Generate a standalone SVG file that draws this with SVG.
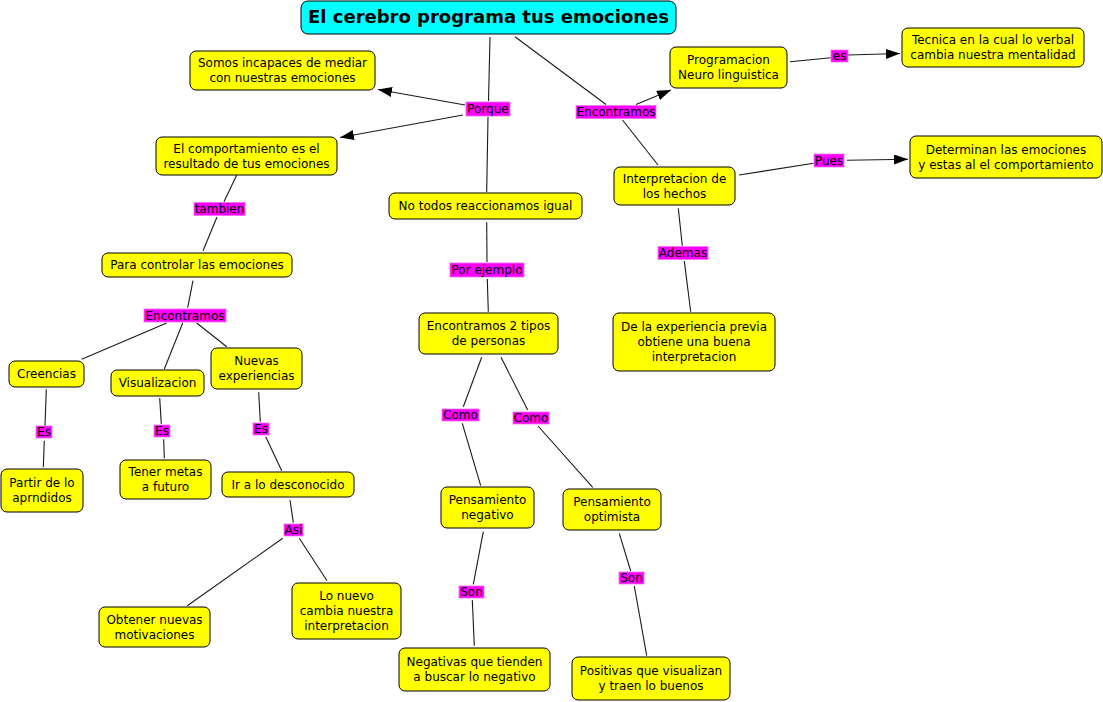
<svg xmlns="http://www.w3.org/2000/svg" width="1103" height="702" viewBox="0 0 1103 702">
<style>
.n rect{fill:#FFFF00;stroke:#000;stroke-width:1}
.t{font-family:"DejaVu Sans",Verdana,sans-serif;font-size:12px;text-anchor:middle;fill:#000}
.ti{font-family:"DejaVu Sans",Verdana,sans-serif;font-size:18px;font-weight:bold;text-anchor:middle;fill:#000}
.lb rect{fill:#FF00FF;stroke:#F070F0;stroke-width:0.8}
#connectors path{stroke:#1a1a1a;stroke-width:1.1;fill:none}
</style>
<defs>
<marker id="ah" markerUnits="userSpaceOnUse" markerWidth="16" markerHeight="12" refX="14" refY="5" orient="auto">
<path d="M0,0 L14,5 L0,10 z" fill="#000"/>
</marker>
</defs>
<rect width="1103" height="702" fill="#fff"/>
<g id="connectors">
<path d="M490,37 L488.5,101"/>
<path d="M488,117 L486.7,192"/>
<path d="M515,36.7 L606,104.5"/>
<path d="M622.5,120 L658,165"/>
<path d="M790,61.7 L831,57.7"/>
<path d="M739,175 L813.6,163.3"/>
<path d="M678.3,208.3 L682.3,245.7"/>
<path d="M684.3,261 L690.7,311.7"/>
<path d="M486.7,222.3 L487,262"/>
<path d="M487.3,279 L488.3,311.7"/>
<path d="M481.7,357.3 L463.3,406.7"/>
<path d="M462.3,423.3 L480.7,485.7"/>
<path d="M501,357.3 L527.7,410"/>
<path d="M538,426 L592.7,487.3"/>
<path d="M483.3,531.7 L473.3,584.3"/>
<path d="M472.3,600 L474.3,645.7"/>
<path d="M619.3,533.3 L630.7,571"/>
<path d="M634.3,586 L646.7,655.7"/>
<path d="M236.7,175 L224,201.7"/>
<path d="M217,217 L203,250.7"/>
<path d="M193,280.7 L187.7,307.7"/>
<path d="M166.7,323 L81.7,359.3"/>
<path d="M182.7,323 L164.3,369"/>
<path d="M196.7,323 L226.7,346.7"/>
<path d="M46.3,389.3 L45,425.7"/>
<path d="M44.3,440.7 L43.3,467.3"/>
<path d="M159.7,398 L161.3,424"/>
<path d="M163.7,439.3 L164.3,458.3"/>
<path d="M258.7,392.3 L260.3,421.7"/>
<path d="M265.7,436.7 L281.7,470.7"/>
<path d="M290,500 L293.3,522.7"/>
<path d="M282.7,538.3 L187.3,605.7"/>
<path d="M299.3,538.3 L327,580.7"/>
<path d="M465,105 L378,89.5" marker-end="url(#ah)"/>
<path d="M463,115 L340,137.5" marker-end="url(#ah)"/>
<path d="M636,104.5 L671,90" marker-end="url(#ah)"/>
<path d="M848,55 L900,53.5" marker-end="url(#ah)"/>
<path d="M847,160.3 L908,159.3" marker-end="url(#ah)"/>
</g>
<g id="title" class="n"><rect x="301" y="1" width="375" height="33" rx="7" style="fill:#00FFFF"/><text class="ti" x="488.5" y="23">El cerebro programa tus emociones</text></g>
<g id="somos" class="n"><rect x="190" y="51" width="185" height="39" rx="6"/><text class="t" x="282.5" y="67">Somos incapaces de mediar</text><text class="t" x="282.5" y="82">con nuestras emociones</text></g>
<g id="comportamiento" class="n"><rect x="156" y="137" width="181" height="38" rx="6"/><text class="t" x="246.5" y="152.5">El comportamiento es el</text><text class="t" x="246.5" y="167.5">resultado de tus emociones</text></g>
<g id="programacion" class="n"><rect x="670" y="47" width="117" height="41" rx="6"/><text class="t" x="728.5" y="64">Programacion</text><text class="t" x="728.5" y="79">Neuro linguistica</text></g>
<g id="tecnica" class="n"><rect x="902" y="28" width="182" height="39" rx="6"/><text class="t" x="993" y="44">Tecnica en la cual lo verbal</text><text class="t" x="993" y="59">cambia nuestra mentalidad</text></g>
<g id="interpretacion" class="n"><rect x="614" y="167" width="121" height="38" rx="6"/><text class="t" x="674.5" y="182.5">Interpretacion de</text><text class="t" x="674.5" y="197.5">los hechos</text></g>
<g id="determinan" class="n"><rect x="910" y="136" width="192" height="42" rx="6"/><text class="t" x="1006" y="153.5">Determinan las emociones</text><text class="t" x="1006" y="168.5">y estas al el comportamiento</text></g>
<g id="notodos" class="n"><rect x="389" y="193" width="193" height="26" rx="6"/><text class="t" x="485.5" y="210">No todos reaccionamos igual</text></g>
<g id="para" class="n"><rect x="102" y="253" width="190" height="24" rx="6"/><text class="t" x="197" y="269">Para controlar las emociones</text></g>
<g id="encontramos2" class="n"><rect x="419" y="313" width="139" height="41" rx="6"/><text class="t" x="488.5" y="330">Encontramos 2 tipos</text><text class="t" x="488.5" y="345">de personas</text></g>
<g id="experiencia" class="n"><rect x="613" y="313" width="162" height="58" rx="6"/><text class="t" x="694" y="331">De la experiencia previa</text><text class="t" x="694" y="346">obtiene una buena</text><text class="t" x="694" y="361">interpretacion</text></g>
<g id="creencias" class="n"><rect x="9" y="361" width="75" height="26" rx="6"/><text class="t" x="46.5" y="378">Creencias</text></g>
<g id="visualizacion" class="n"><rect x="111" y="370" width="93" height="26" rx="6"/><text class="t" x="157.5" y="387">Visualizacion</text></g>
<g id="nuevas" class="n"><rect x="211" y="348" width="91" height="41" rx="6"/><text class="t" x="256.5" y="365">Nuevas</text><text class="t" x="256.5" y="380">experiencias</text></g>
<g id="partir" class="n"><rect x="1" y="469" width="82" height="43" rx="6"/><text class="t" x="42" y="487">Partir de lo</text><text class="t" x="42" y="502">aprndidos</text></g>
<g id="tener" class="n"><rect x="120" y="460" width="91" height="39" rx="6"/><text class="t" x="165.5" y="476">Tener metas</text><text class="t" x="165.5" y="491">a futuro</text></g>
<g id="ir" class="n"><rect x="222" y="472" width="132" height="25" rx="6"/><text class="t" x="288" y="488.5">Ir a lo desconocido</text></g>
<g id="pnegativo" class="n"><rect x="441" y="487" width="93" height="41" rx="6"/><text class="t" x="487.5" y="504">Pensamiento</text><text class="t" x="487.5" y="519">negativo</text></g>
<g id="poptimista" class="n"><rect x="563" y="489" width="98" height="41" rx="6"/><text class="t" x="612" y="506">Pensamiento</text><text class="t" x="612" y="521">optimista</text></g>
<g id="obtener" class="n"><rect x="99" y="607" width="111" height="40" rx="6"/><text class="t" x="154.5" y="623.5">Obtener nuevas</text><text class="t" x="154.5" y="638.5">motivaciones</text></g>
<g id="lonuevo" class="n"><rect x="292" y="583" width="109" height="56" rx="6"/><text class="t" x="346.5" y="600">Lo nuevo</text><text class="t" x="346.5" y="615">cambia nuestra</text><text class="t" x="346.5" y="630">interpretacion</text></g>
<g id="negativas" class="n"><rect x="399" y="648" width="151" height="43" rx="6"/><text class="t" x="474.5" y="666">Negativas que tienden</text><text class="t" x="474.5" y="681">a buscar lo negativo</text></g>
<g id="positivas" class="n"><rect x="572" y="657" width="158" height="43" rx="6"/><text class="t" x="651" y="675">Positivas que visualizan</text><text class="t" x="651" y="690">y traen lo buenos</text></g>
<g id="lbl-porque" class="lb"><rect x="466" y="102" width="44" height="14"/><text class="t" x="488" y="113">Porque</text></g>
<g id="lbl-encontramos1" class="lb"><rect x="576" y="105.5" width="80" height="13"/><text class="t" x="616" y="116">Encontramos</text></g>
<g id="lbl-es" class="lb"><rect x="831" y="50" width="17" height="12"/><text class="t" x="839.5" y="60">es</text></g>
<g id="lbl-pues" class="lb"><rect x="814" y="154" width="30" height="13"/><text class="t" x="829" y="164.5">Pues</text></g>
<g id="lbl-tambien" class="lb"><rect x="194" y="202.5" width="51" height="13"/><text class="t" x="219.5" y="213">tambien</text></g>
<g id="lbl-encontramos2" class="lb"><rect x="144" y="309" width="82" height="13"/><text class="t" x="185" y="319.5">Encontramos</text></g>
<g id="lbl-porejemplo" class="lb"><rect x="450" y="263" width="74" height="14"/><text class="t" x="487" y="274">Por ejemplo</text></g>
<g id="lbl-ademas" class="lb"><rect x="658" y="246.5" width="50" height="13"/><text class="t" x="683" y="257">Ademas</text></g>
<g id="lbl-es1" class="lb"><rect x="36" y="426" width="16" height="12"/><text class="t" x="44" y="436">Es</text></g>
<g id="lbl-es2" class="lb"><rect x="154" y="425" width="16" height="12"/><text class="t" x="162" y="435">Es</text></g>
<g id="lbl-es3" class="lb"><rect x="253" y="423" width="16" height="12"/><text class="t" x="261" y="433">Es</text></g>
<g id="lbl-como1" class="lb"><rect x="442" y="409" width="37" height="12"/><text class="t" x="460.5" y="419">Como</text></g>
<g id="lbl-como2" class="lb"><rect x="513" y="412" width="36" height="12"/><text class="t" x="531" y="422">Como</text></g>
<g id="lbl-asi" class="lb"><rect x="284" y="524" width="19" height="12"/><text class="t" x="293.5" y="534">Asi</text></g>
<g id="lbl-son1" class="lb"><rect x="459" y="586" width="25" height="12"/><text class="t" x="471.5" y="596">Son</text></g>
<g id="lbl-son2" class="lb"><rect x="619" y="572" width="25" height="12"/><text class="t" x="631.5" y="582">Son</text></g>
</svg>
